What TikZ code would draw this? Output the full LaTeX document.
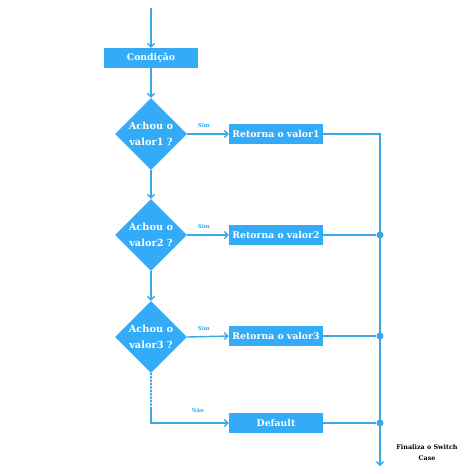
\documentclass[tikz,border=0pt]{standalone}
\usepackage{fontspec}
\setmainfont{DejaVu Serif}
\usetikzlibrary{shapes.geometric,arrows.meta}
\definecolor{fc}{RGB}{52,171,247}
\definecolor{lc}{RGB}{60,166,235}
\tikzset{
  box/.style={fill=fc, text=white, font=\bfseries\fontsize{9.3}{11}\selectfont, minimum width=94pt, minimum height=20pt, inner sep=0pt},
  dia/.style={diamond, fill=fc, text=white, font=\bfseries\fontsize{9.8}{16}\selectfont, minimum width=72pt, minimum height=72pt, inner sep=0pt, align=center, aspect=1},
  ln/.style={draw=lc, line width=1.4pt},
  arr/.style={ln, -{Straight Barb[length=3.5pt,width=7pt]}},
  lbl/.style={text=lc, font=\bfseries\fontsize{5.5}{6}\selectfont},
  dot/.style={circle, fill=lc, minimum size=7pt, inner sep=0pt}
}
\begin{document}
\begin{tikzpicture}[x=1pt,y=-1pt]
\useasboundingbox[fill=white] (0,0) rectangle (474,474);
\coordinate (start) at (151,8);
\node[box] (cond) at (151,58) {Condição};
\node[dia] (d1) at (151,134) {Achou o\\valor1 ?};
\node[dia] (d2) at (151,235) {Achou o\\valor2 ?};
\node[dia] (d3) at (151,337) {Achou o\\valor3 ?};
\node[box] (r1) at (276,134) {Retorna o valor1};
\node[box] (r2) at (276,235) {Retorna o valor2};
\node[box] (r3) at (276,336) {Retorna o valor3};
\node[box] (def) at (276,423) {Default};
\coordinate (c1) at (380,134);
\node[dot] (j2) at (380,235) {};
\node[dot] (j3) at (380,336) {};
\node[dot] (j4) at (380,423) {};
\coordinate (end) at (380,466);
\coordinate (nb) at (151,423);
\coordinate (nd) at (151,408);
\node[font=\bfseries\fontsize{6.4}{11}\selectfont, align=center] (fin) at (427,453) {Finaliza o Switch\\Case};

\draw[arr] (start) -- (cond.north);
\draw[arr] (cond.south) -- (d1.north);
\draw[arr] (d1.south) -- (d2.north);
\draw[arr] (d2.south) -- (d3.north);
\draw[arr] (d1.east) -- node[lbl, above=2pt, pos=0.4] {Sim} (r1.west);
\draw[arr] (d2.east) -- node[lbl, above=2pt, pos=0.4] {Sim} (r2.west);
\draw[arr] (d3.east) -- node[lbl, above=2pt, pos=0.4] {Sim} (r3.west);
\draw[ln, dotted, line cap=round] (d3.south) -- (nd);
\draw[arr] (nd) -- (nb) -- node[lbl, above=6pt, pos=0.6] {Não} (def.west);
\draw[arr] (r1.east) -- (c1) -- (end);
\draw[ln] (r2.east) -- (j2);
\draw[ln] (r3.east) -- (j3);
\draw[ln] (def.east) -- (j4);
\end{tikzpicture}
\end{document}
